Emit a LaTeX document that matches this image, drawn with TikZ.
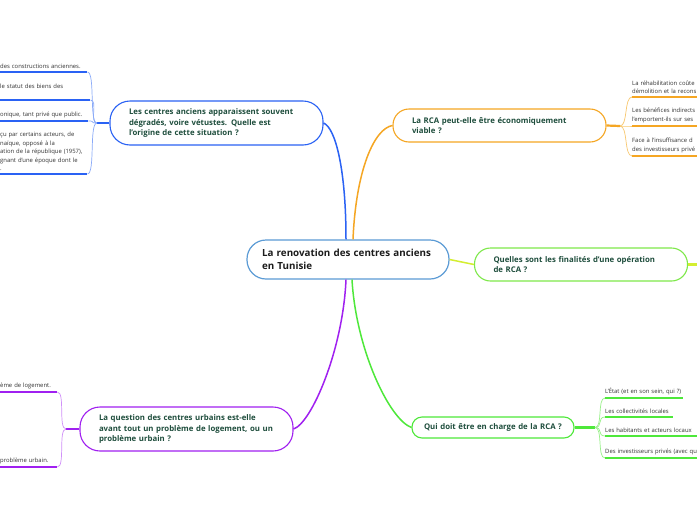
\documentclass[tikz,border=0pt]{standalone}
\usepackage{fontspec}
\setmainfont{Open Sans}
\definecolor{ctrline}{HTML}{5B9BD5}
\definecolor{ctrtext}{HTML}{1C1C1C}
\definecolor{toptext}{HTML}{1F4E3D}
\definecolor{subtext}{HTML}{333333}
\definecolor{cblue}{HTML}{2A62F4}
\definecolor{cbluel}{HTML}{8AAAF8}
\definecolor{corange}{HTML}{F5A623}
\definecolor{corangel}{HTML}{F8C870}
\definecolor{clime}{HTML}{7EE84A}
\definecolor{cyell}{HTML}{D4EE30}
\definecolor{cgreen}{HTML}{4EE83A}
\definecolor{cgreenl}{HTML}{98F088}
\definecolor{cpurple}{HTML}{A020F0}
\definecolor{cpurplel}{HTML}{D090F8}
\begin{document}
\begin{tikzpicture}[x=1pt,y=-1pt,
ctr/.style = {draw=ctrline,line width=1.2pt,rounded corners=19pt,minimum height=39pt,text width=172pt,inner xsep=15pt,align=left,font=\fontsize{9.8}{12.5}\selectfont\bfseries,text=ctrtext,fill=white},
topic/.style = {draw=#1,line width=1.1pt,fill=white,inner xsep=19pt,text width=175pt,align=left,font=\fontsize{7.8}{10.5}\selectfont\bfseries,text=toptext},
sub/.style = {inner xsep=0pt,inner ysep=3pt,text width=#1,align=left,font=\fontsize{5.9}{8.5}\selectfont,text=subtext},
link/.style = {line width=1.5pt,#1},
stem/.style = {line width=2.2pt,#1},
twig/.style = {line width=0.7pt,#1},
uline/.style = {line width=1.8pt,#1}
]
  \path[use as bounding box,fill=white] (0,0) rectangle (697,520);

  \node[ctr] (ctr) at (348,259.5) {La renovation des centres anciens\\en Tunisie};
  \node[topic=cblue,minimum height=44pt,rounded corners=20pt] (t1) at (216.5,123) {Les centres anciens apparaissent souvent\\dégradés, voire vétustes. Quelle est\\l'origine de cette situation ?};
  \node[topic=corange,minimum height=33pt,rounded corners=16pt] (t2) at (499.5,125.5) {La RCA peut-elle être économiquement\\viable ?};
  \node[topic=clime,minimum height=33pt,rounded corners=16pt] (t3) at (581,264.5) {Quelles sont les finalités d'une opération\\de RCA ?};
  \node[topic=cgreen,minimum height=21pt,rounded corners=10pt,text width=140pt,inner xsep=11pt,align=center] (t4) at (493,427.5) {Qui doit être en charge de la RCA ?};
  \node[topic=cpurple,minimum height=44pt,rounded corners=20pt] (t5) at (186.5,429) {La question des centres urbains est-elle\\avant tout un problème de logement, ou un\\problème urbain ?};

  \draw[link=cblue] ([xshift=-2pt]ctr.north) .. controls +(0,-70) and +(12,5) .. (t1.east);
  \draw[link=corange] ([xshift=5pt]ctr.north) .. controls +(3,-70) and +(-18,3) .. (t2.west);
  \draw[link=cyell] (ctr.east) -- (t3.west);
  \draw[link=cgreen] ([xshift=4pt]ctr.south) .. controls +(4,70) and +(-22,-8) .. (t4.west);
  \draw[link=cpurple] ([xshift=-2pt]ctr.south) .. controls +(-3,70) and +(18,-6) .. (t5.east);
  \coordinate (e3) at (697,264.5);
  \draw[stem=cyell] (t3.east) -- (e3);

  \coordinate (jb) at (97,123);
  \coordinate (jo) at (620,126);
  \coordinate (jg) at (595,427.5);
  \coordinate (jp) at (66,429);
  \draw[stem=cblue] (t1.west) -- (jb);
  \draw[stem=corange] (t2.east) -- (jo);
  \draw[stem=cgreen] (t4.east) -- (jg);
  \draw[stem=cpurple] (t5.west) -- (jp);

  \node[sub=87pt,anchor=south west] (b1) at (0,72) {des constructions anciennes.};
  \node[sub=90pt,anchor=south west] (b2) at (0,100) {le statut des biens des\\~};
  \node[sub=88pt,anchor=south west] (b3) at (0,121) {onique, tant privé que public.};
  \node[sub=87pt,anchor=south west] (b4) at (0,174) {çu par certains acteurs, de\\naïque, opposé à la\\ation de la république (1957),\\gnant d'une époque dont le\\.};
  \foreach \n in {b1,b2,b3,b4} {
    \draw[uline=cblue] (\n.south west) -- (\n.south east);
    \draw[twig=cbluel] (jb) .. controls +(-8,0) and +(8,0) .. (\n.south east);
  }

  \node[sub=80pt,anchor=south west] (o1) at (632,97) {La réhabilitation coûte\\démolition et la recons};
  \node[sub=80pt,anchor=south west] (o2) at (632,126) {Les bénéfices indirects\\l'emportent-ils sur ses};
  \node[sub=80pt,anchor=south west] (o3) at (632,156) {Face à l'insuffisance d\\des investisseurs privé};
  \foreach \n in {o1,o2,o3} {
    \draw[uline=corange] (\n.south west) -- (\n.south east);
    \draw[twig=corangel] (jo) .. controls +(8,0) and +(-8,0) .. (\n.south west);
  }

  \node[sub=78pt,anchor=south west] (g1) at (605,398) {L'État (et en son sein, qui ?)};
  \node[sub=68pt,anchor=south west] (g2) at (605,417) {Les collectivités locales};
  \node[sub=95pt,anchor=south west] (g3) at (605,436) {Les habitants et acteurs locaux};
  \node[sub=95pt,anchor=south west] (g4) at (605,458) {Des investisseurs privés (avec qu};
  \foreach \n in {g1,g2,g3,g4} {
    \draw[uline=cgreen] (\n.south west) -- (\n.south east);
    \draw[twig=cgreenl] (jg) .. controls +(8,0) and +(-8,0) .. (\n.south west);
  }

  \node[sub=57pt,anchor=south west] (p1) at (0,392) {ème de logement.};
  \node[sub=57pt,anchor=south west] (p2) at (0,467) {problème urbain.};
  \foreach \n in {p1,p2} {
    \draw[uline=cpurple] (\n.south west) -- (\n.south east);
    \draw[twig=cpurplel] (jp) .. controls +(-8,0) and +(8,0) .. (\n.south east);
  }
\end{tikzpicture}
\end{document}
